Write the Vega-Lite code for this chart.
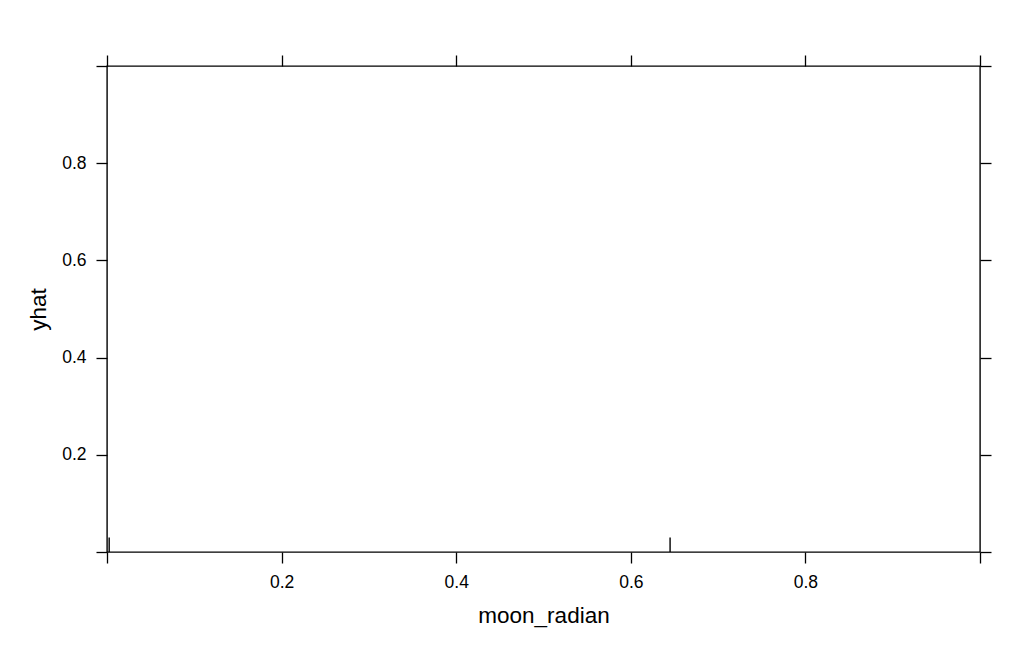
{
  "$schema": "https://vega.github.io/schema/vega-lite/v6.json",
  "width": 873,
  "height": 486,
  "autosize": {"type": "none"},
  "padding": {"left": 107, "top": 66, "right": 55, "bottom": 106},
  "background": "white",
  "data": {"values": [
    {"moon_radian": 0.0025},
    {"moon_radian": 0.645}
  ]},
  "config": {
    "view": {"stroke": "black", "strokeWidth": 1.4},
    "font": "Liberation Sans",
    "axis": {
      "domain": false,
      "grid": false,
      "tickColor": "black",
      "tickSize": 11,
      "tickWidth": 1.3,
      "labelColor": "black",
      "labelFont": "Liberation Sans",
      "labelFontSize": 17.5,
      "labelPadding": 10,
      "titleFont": "Liberation Sans",
      "titleFontSize": 22.5,
      "titleFontWeight": "normal",
      "titleColor": "black"
    }
  },
  "layer": [
    {
      "mark": {"type": "rule", "color": "black", "strokeWidth": 1.4},
      "encoding": {
        "x": {
          "field": "moon_radian",
          "type": "quantitative",
          "scale": {"domain": [0, 1], "nice": false},
          "axis": {
            "orient": "bottom",
            "values": [0, 0.2, 0.4, 0.6, 0.8, 1],
            "format": ".1f",
            "labelExpr": "datum.value > 0.01 && datum.value < 0.99 ? datum.label : ''",
            "title": "moon_radian",
            "titlePadding": 14
          }
        },
        "y": {
          "datum": 0,
          "type": "quantitative",
          "scale": {"domain": [0, 1], "nice": false},
          "axis": {
            "orient": "left",
            "values": [0, 0.2, 0.4, 0.6, 0.8, 1],
            "format": ".1f",
            "labelExpr": "datum.value > 0.01 && datum.value < 0.99 ? datum.label : ''",
            "title": "yhat",
            "titlePadding": 11
          }
        },
        "y2": {"datum": 0.03}
      }
    },
    {
      "mark": {"type": "rule", "opacity": 0},
      "encoding": {
        "x": {
          "field": "moon_radian",
          "type": "quantitative",
          "axis": {
            "orient": "top",
            "values": [0, 0.2, 0.4, 0.6, 0.8, 1],
            "labels": false,
            "title": null
          }
        },
        "y": {
          "datum": 0,
          "type": "quantitative",
          "axis": {
            "orient": "right",
            "values": [0, 0.2, 0.4, 0.6, 0.8, 1],
            "labels": false,
            "title": null
          }
        },
        "y2": {"datum": 0.03}
      }
    }
  ],
  "resolve": {"axis": {"x": "independent", "y": "independent"}}
}
